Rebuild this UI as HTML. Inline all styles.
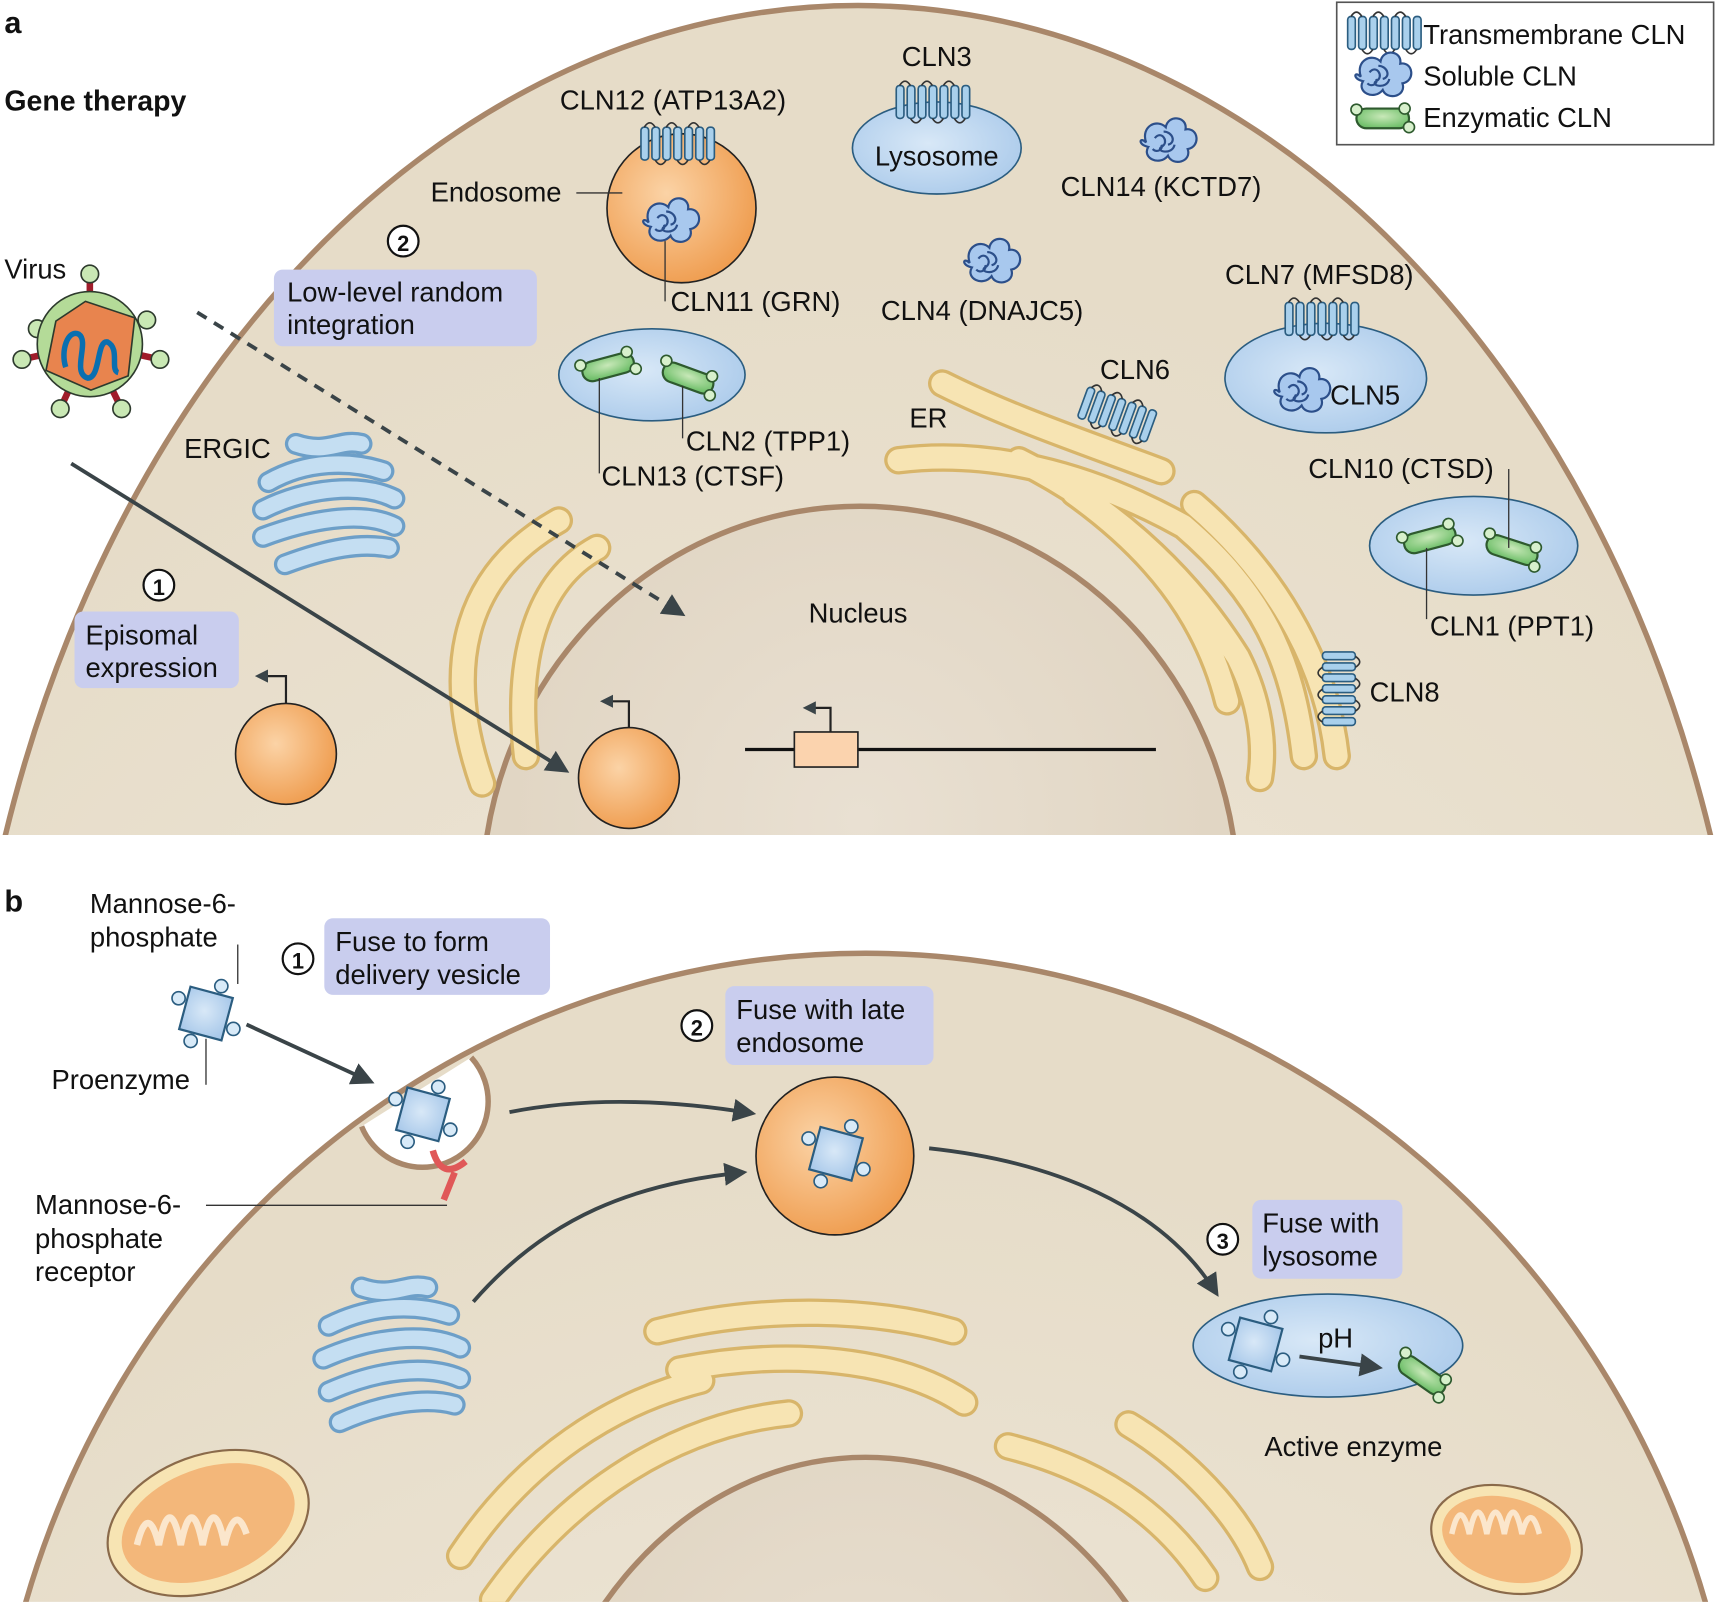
<!DOCTYPE html>
<html><head><meta charset="utf-8"><style>
html,body{margin:0;padding:0;background:#fff;width:1718px;height:1602px;overflow:hidden;}
svg{display:block}
text{font-family:"Liberation Sans",sans-serif;font-size:25px;fill:#111}
</style></head><body>
<svg width="1718" height="1602" viewBox="0 0 1568 1462" xmlns="http://www.w3.org/2000/svg">
<defs>
<radialGradient id="cell" cx="50%" cy="90%" r="80%"><stop offset="0" stop-color="#f4efe6"/><stop offset="1" stop-color="#e6dcc8"/></radialGradient>
<radialGradient id="nuc" cx="50%" cy="40%" r="70%"><stop offset="0" stop-color="#e9e0d2"/><stop offset="1" stop-color="#ddd1bd"/></radialGradient>
<radialGradient id="or" cx="40%" cy="40%" r="65%"><stop offset="0" stop-color="#fbd3a6"/><stop offset="1" stop-color="#ef9c4e"/></radialGradient>
<radialGradient id="bl" cx="45%" cy="45%" r="65%"><stop offset="0" stop-color="#d8e8f7"/><stop offset="1" stop-color="#a9c9ea"/></radialGradient>
<radialGradient id="gr" cx="50%" cy="40%" r="60%"><stop offset="0" stop-color="#c8e8b8"/><stop offset="1" stop-color="#6fbf6a"/></radialGradient>
<marker id="ah" viewBox="0 0 10 10" refX="8" refY="5" markerWidth="6" markerHeight="6" orient="auto"><path d="M0,0L10,5L0,10z" fill="#3a4448"/></marker>
<g id="tm"><g fill="#a9d0ec" stroke="#2b5d80" stroke-width="1.5"><rect x="0" y="0" width="7" height="30" rx="3"/><rect x="10" y="0" width="7" height="30" rx="3"/><rect x="20" y="0" width="7" height="30" rx="3"/><rect x="30" y="0" width="7" height="30" rx="3"/><rect x="40" y="0" width="7" height="30" rx="3"/><rect x="50" y="0" width="7" height="30" rx="3"/><rect x="60" y="0" width="7" height="30" rx="3"/></g><path d="M3,0 q5,-8 10,0 M23,0 q5,-8 10,0 M43,0 q5,-8 10,0 M13,30 q5,8 10,0 M33,30 q5,8 10,0 M53,30 q5,8 10,0" fill="none" stroke="#333" stroke-width="1.5"/></g>
<g id="sol"><path d="M-20,0 c-5,-15 10,-22 18,-14 c2,-12 20,-10 18,2 c12,-2 14,16 2,18 c4,12 -14,16 -18,6 c-8,10 -24,2 -18,-8 c-10,-2 -8,-10 -2,-4 z" fill="#a8c8ee" stroke="#2c4f8a" stroke-width="2"/><path d="M-12,-4 c6,-8 14,4 6,8 c-6,4 10,8 12,-2 M-4,-10 c8,0 12,10 4,12 M-14,6 c4,4 10,0 8,-4" fill="none" stroke="#2c4f8a" stroke-width="2"/></g>
<g id="enz"><rect x="-24" y="-9" width="48" height="18" rx="9" fill="url(#gr)" stroke="#2e5a2e" stroke-width="2"/><circle cx="-24" cy="-8" r="5" fill="#d7f0cc" stroke="#2e5a2e" stroke-width="1.5"/><circle cx="24" cy="8" r="5" fill="#d7f0cc" stroke="#2e5a2e" stroke-width="1.5"/><circle cx="20" cy="-9" r="5" fill="#d7f0cc" stroke="#2e5a2e" stroke-width="1.5"/></g>
<g id="pro"><rect x="-20" y="-20" width="40" height="40" fill="url(#bl)" stroke="#2b5d80" stroke-width="2" transform="rotate(15)"/><g fill="#d8eaf8" stroke="#2b5d80" stroke-width="1.5"><circle cx="-25" cy="-14" r="6"/><circle cx="14" cy="-25" r="6"/><circle cx="25" cy="14" r="6"/><circle cx="-14" cy="25" r="6"/></g></g>
</defs>

<!-- ===== PANEL A ===== -->
<clipPath id="ca"><rect x="0" y="0" width="1568" height="762"/></clipPath>
<g clip-path="url(#ca)">
<ellipse cx="783" cy="1100" rx="818" ry="1095" fill="url(#cell)" stroke="#a9876a" stroke-width="5"/>
<ellipse cx="785" cy="820" rx="345" ry="358" fill="url(#nuc)" stroke="#a9876a" stroke-width="5"/>
<g fill="none" stroke-linecap="round">
<path d="M440,715 C400,600 430,520 510,475 M480,690 C470,600 490,530 545,500" stroke="#d8b56a" stroke-width="26"/>
<path d="M440,715 C400,600 430,520 510,475 M480,690 C470,600 490,530 545,500" stroke="#f7e4b3" stroke-width="20"/>
<path d="M860,350 C920,380 980,400 1060,430 M820,420 C900,410 990,430 1080,480 C1150,540 1180,600 1190,690 M930,420 C1010,460 1080,520 1130,600 C1150,640 1155,680 1150,710 M980,450 C1050,500 1100,560 1120,640 M1090,460 C1160,520 1210,600 1220,690" stroke="#d8b56a" stroke-width="26"/>
<path d="M860,350 C920,380 980,400 1060,430 M820,420 C900,410 990,430 1080,480 C1150,540 1180,600 1190,690 M930,420 C1010,460 1080,520 1130,600 C1150,640 1155,680 1150,710 M980,450 C1050,500 1100,560 1120,640 M1090,460 C1160,520 1210,600 1220,690" stroke="#f7e4b3" stroke-width="20"/>
<path d="M270,405 C300,415 310,400 330,405 M245,440 C280,420 320,420 350,430 M240,465 C280,445 330,440 360,455 M240,490 C280,475 330,465 360,480 M260,515 C300,500 330,495 355,500" stroke="#6d9fc8" stroke-width="20"/>
<path d="M270,405 C300,415 310,400 330,405 M245,440 C280,420 320,420 350,430 M240,465 C280,445 330,440 360,455 M240,490 C280,475 330,465 360,480 M260,515 C300,500 330,495 355,500" stroke="#c4def2" stroke-width="14"/>
</g>
</g>

<text x="4" y="30" style="font-weight:bold;font-size:28px">a</text>
<text x="4" y="101" style="font-weight:bold;font-size:26px">Gene therapy</text>

<rect x="1220" y="2" width="344" height="130" fill="#fff" stroke="#555" stroke-width="1.5"/>
<use href="#tm" x="1230" y="15"/>
<text x="1299" y="40">Transmembrane CLN</text>
<use href="#sol" x="1262" y="70"/>
<text x="1299" y="78">Soluble CLN</text>
<use href="#enz" x="1262" y="108"/>
<text x="1299" y="116">Enzymatic CLN</text>

<g stroke="#a01c2a" stroke-width="6"><line x1="82" y1="314" x2="82" y2="250"/><line x1="82" y1="314" x2="34" y2="295"/><line x1="82" y1="314" x2="134" y2="292"/><line x1="82" y1="314" x2="20" y2="328"/><line x1="82" y1="314" x2="146" y2="328"/><line x1="82" y1="314" x2="55" y2="373"/><line x1="82" y1="314" x2="111" y2="373"/></g>
<g fill="#c9e8b4" stroke="#2d3a2d" stroke-width="1.5"><circle cx="82" cy="250" r="8"/><circle cx="34" cy="300" r="8"/><circle cx="134" cy="292" r="8"/><circle cx="20" cy="328" r="8"/><circle cx="146" cy="328" r="8"/><circle cx="55" cy="373" r="8"/><circle cx="111" cy="373" r="8"/></g>
<circle cx="82" cy="314" r="48" fill="#b4db98" stroke="#2d3a2d" stroke-width="1.5"/>
<polygon points="78,275 123,290 117,343 83,356 42,338 51,293" fill="#e8844e" stroke="#2d3a2d" stroke-width="1.5"/>
<path d="M60,335 C55,320 62,300 72,305 C82,312 65,340 80,345 C92,345 88,310 98,312 C110,318 100,338 108,340" fill="none" stroke="#0a6fb0" stroke-width="5"/>
<text x="4" y="254">Virus</text>

<line x1="65" y1="423" x2="516" y2="703" stroke="#3a4448" stroke-width="3.5" marker-end="url(#ah)"/>
<line x1="180" y1="285" x2="622" y2="560" stroke="#3a4448" stroke-width="3.5" stroke-dasharray="10,8" marker-end="url(#ah)"/>

<rect x="250" y="246" width="240" height="70" rx="8" fill="#c9cdee"/>
<text x="262" y="275">Low-level random</text><text x="262" y="305">integration</text>
<circle cx="368" cy="220" r="14" fill="#fff" stroke="#111" stroke-width="2"/><text x="368" y="229" text-anchor="middle" style="font-weight:bold;font-size:20px">2</text>
<rect x="68" y="558" width="150" height="70" rx="8" fill="#c9cdee"/>
<text x="78" y="588">Episomal</text><text x="78" y="618">expression</text>
<circle cx="145" cy="534" r="14" fill="#fff" stroke="#111" stroke-width="2"/><text x="145" y="543" text-anchor="middle" style="font-weight:bold;font-size:20px">1</text>
<text x="168" y="418">ERGIC</text>
<text x="830" y="390">ER</text>
<text x="738" y="568">Nucleus</text>

<circle cx="261" cy="688" r="46" fill="url(#or)" stroke="#222" stroke-width="1.5"/>
<path d="M261,642 V617 H235" fill="none" stroke="#222" stroke-width="2" marker-end="url(#ah)"/>
<circle cx="574" cy="710" r="46" fill="url(#or)" stroke="#222" stroke-width="1.5"/>
<path d="M574,664 V640 H550" fill="none" stroke="#222" stroke-width="2" marker-end="url(#ah)"/>
<line x1="680" y1="684" x2="1055" y2="684" stroke="#111" stroke-width="3"/>
<rect x="725" y="668" width="58" height="32" fill="#fbd3ae" stroke="#222" stroke-width="1.5"/>
<path d="M758,668 V646 H735" fill="none" stroke="#222" stroke-width="2" marker-end="url(#ah)"/>

<circle cx="622" cy="190" r="68" fill="url(#or)" stroke="#222" stroke-width="1.5"/>
<use href="#tm" x="585" y="116"/>
<use href="#sol" x="612" y="203"/>
<line x1="526" y1="176" x2="568" y2="176" stroke="#333" stroke-width="1.2"/>
<line x1="607" y1="220" x2="607" y2="275" stroke="#333" stroke-width="1.2"/>
<text x="393" y="184">Endosome</text>
<text x="511" y="100">CLN12 (ATP13A2)</text>
<text x="612" y="284">CLN11 (GRN)</text>

<ellipse cx="855" cy="135" rx="77" ry="42" fill="url(#bl)" stroke="#2b5d80" stroke-width="1.5"/>
<use href="#tm" x="818" y="78"/>
<text x="855" y="60" text-anchor="middle">CLN3</text>
<text x="855" y="151" text-anchor="middle">Lysosome</text>
<use href="#sol" x="1066" y="130"/>
<text x="968" y="179">CLN14 (KCTD7)</text>
<use href="#sol" x="905" y="240"/>
<text x="804" y="292">CLN4 (DNAJC5)</text>

<ellipse cx="595" cy="342" rx="85" ry="42" fill="url(#bl)" stroke="#2b5d80" stroke-width="1.5"/>
<use href="#enz" x="555" y="335" transform="rotate(-15 555 335)"/>
<use href="#enz" x="628" y="345" transform="rotate(20 628 345)"/>
<line x1="547" y1="345" x2="547" y2="432" stroke="#333" stroke-width="1.2"/>
<line x1="623" y1="352" x2="623" y2="400" stroke="#333" stroke-width="1.2"/>
<text x="626" y="411">CLN2 (TPP1)</text>
<text x="549" y="443">CLN13 (CTSF)</text>

<ellipse cx="1210" cy="345" rx="92" ry="50" fill="url(#bl)" stroke="#2b5d80" stroke-width="1.5"/>
<use href="#tm" x="1173" y="276"/>
<use href="#sol" x="1188" y="358"/>
<text x="1118" y="259">CLN7 (MFSD8)</text>
<text x="1214" y="369">CLN5</text>
<g transform="rotate(20 1010 380)"><use href="#tm" x="985" y="360"/></g>
<text x="1004" y="346">CLN6</text>

<ellipse cx="1345" cy="498" rx="95" ry="45" fill="url(#bl)" stroke="#2b5d80" stroke-width="1.5"/>
<use href="#enz" x="1305" y="492" transform="rotate(-15 1305 492)"/>
<use href="#enz" x="1380" y="502" transform="rotate(18 1380 502)"/>
<line x1="1377" y1="428" x2="1377" y2="500" stroke="#333" stroke-width="1.2"/>
<line x1="1302" y1="500" x2="1302" y2="565" stroke="#333" stroke-width="1.2"/>
<text x="1194" y="436">CLN10 (CTSD)</text>
<text x="1305" y="580">CLN1 (PPT1)</text>
<g transform="rotate(-90 1222 630)"><use href="#tm" x="1190" y="615"/></g>
<text x="1250" y="640">CLN8</text>

<!-- ===== PANEL B ===== -->
<text x="4" y="832" style="font-weight:bold;font-size:28px">b</text>
<clipPath id="cb"><rect x="0" y="770" width="1568" height="692"/></clipPath>
<g clip-path="url(#cb)">
<ellipse cx="790" cy="1700" rx="800" ry="830" fill="url(#cell)" stroke="#a9876a" stroke-width="5"/>
<path d="M330,1028 A60,60 0 1 0 430,965" fill="#fff" stroke="#a9876a" stroke-width="5"/>
<ellipse cx="790" cy="1700" rx="310" ry="370" fill="url(#nuc)" stroke="#a9876a" stroke-width="5"/>
<g fill="none" stroke-linecap="round">
<path d="M420,1420 C480,1330 560,1280 640,1260 M450,1460 C520,1360 620,1300 720,1290 M600,1215 C700,1190 800,1195 870,1215 M620,1250 C720,1230 820,1240 880,1280 M920,1320 C1000,1340 1060,1380 1100,1440 M1030,1300 C1080,1330 1130,1380 1150,1430" stroke="#d8b56a" stroke-width="26"/>
<path d="M420,1420 C480,1330 560,1280 640,1260 M450,1460 C520,1360 620,1300 720,1290 M600,1215 C700,1190 800,1195 870,1215 M620,1250 C720,1230 820,1240 880,1280 M920,1320 C1000,1340 1060,1380 1100,1440 M1030,1300 C1080,1330 1130,1380 1150,1430" stroke="#f7e4b3" stroke-width="20"/>
<path d="M330,1175 C360,1185 370,1170 390,1175 M300,1210 C340,1190 380,1190 410,1200 M295,1240 C340,1220 390,1215 420,1230 M300,1270 C345,1250 390,1245 420,1258 M310,1298 C350,1280 390,1275 415,1282" stroke="#6d9fc8" stroke-width="20"/>
<path d="M330,1175 C360,1185 370,1170 390,1175 M300,1210 C340,1190 380,1190 410,1200 M295,1240 C340,1220 390,1215 420,1230 M300,1270 C345,1250 390,1245 420,1258 M310,1298 C350,1280 390,1275 415,1282" stroke="#c4def2" stroke-width="14"/>
</g>
<ellipse cx="190" cy="1390" rx="95" ry="62" transform="rotate(-20 190 1390)" fill="#f7e4b3" stroke="#8a6a4a" stroke-width="2"/>
<ellipse cx="190" cy="1390" rx="82" ry="50" transform="rotate(-20 190 1390)" fill="#f3b77a"/>
<path d="M125,1410 q10,-40 20,0 q10,-50 20,0 q10,-50 20,0 q10,-50 20,0 q10,-40 20,-10" fill="none" stroke="#fbe6cc" stroke-width="6"/>
<ellipse cx="1375" cy="1405" rx="70" ry="48" transform="rotate(15 1375 1405)" fill="#f7e4b3" stroke="#8a6a4a" stroke-width="2"/>
<ellipse cx="1375" cy="1405" rx="60" ry="38" transform="rotate(15 1375 1405)" fill="#f3b77a"/>
<path d="M1325,1400 q8,-35 16,0 q8,-40 16,0 q8,-40 16,0 q8,-40 16,0 q8,-30 16,0" fill="none" stroke="#fbe6cc" stroke-width="5"/>
</g>

<text x="82" y="833">Mannose-6-</text><text x="82" y="864">phosphate</text>
<line x1="217" y1="862" x2="217" y2="898" stroke="#333" stroke-width="1.2"/>
<use href="#pro" x="188" y="925"/>
<line x1="188" y1="948" x2="188" y2="990" stroke="#333" stroke-width="1.2"/>
<text x="47" y="994">Proenzyme</text>
<circle cx="272" cy="875" r="14" fill="#fff" stroke="#111" stroke-width="2"/><text x="272" y="884" text-anchor="middle" style="font-weight:bold;font-size:20px">1</text>
<rect x="296" y="838" width="206" height="70" rx="8" fill="#c9cdee"/>
<text x="306" y="868">Fuse to form</text><text x="306" y="898">delivery vesicle</text>
<line x1="225" y1="935" x2="338" y2="987" stroke="#3a4448" stroke-width="3.5" marker-end="url(#ah)"/>
<use href="#pro" x="386" y="1017"/>
<path d="M405,1095 L415,1070 M395,1050 q8,28 30,10" fill="none" stroke="#e05858" stroke-width="6"/>
<line x1="188" y1="1100" x2="408" y2="1100" stroke="#333" stroke-width="1.2"/>
<text x="32" y="1108">Mannose-6-</text><text x="32" y="1139">phosphate</text><text x="32" y="1169">receptor</text>

<circle cx="636" cy="936" r="14" fill="#fff" stroke="#111" stroke-width="2"/><text x="636" y="945" text-anchor="middle" style="font-weight:bold;font-size:20px">2</text>
<rect x="662" y="900" width="190" height="72" rx="8" fill="#c9cdee"/>
<text x="672" y="930">Fuse with late</text><text x="672" y="960">endosome</text>
<path d="M465,1015 C540,1000 620,1005 686,1016" fill="none" stroke="#3a4448" stroke-width="3.5" marker-end="url(#ah)"/>
<path d="M432,1188 C500,1110 580,1080 678,1070" fill="none" stroke="#3a4448" stroke-width="3.5" marker-end="url(#ah)"/>
<circle cx="762" cy="1055" r="72" fill="url(#or)" stroke="#222" stroke-width="1.5"/>
<use href="#pro" x="763" y="1053"/>
<path d="M848,1048 C960,1060 1060,1100 1110,1180" fill="none" stroke="#3a4448" stroke-width="3.5" marker-end="url(#ah)"/>

<circle cx="1116" cy="1131" r="14" fill="#fff" stroke="#111" stroke-width="2"/><text x="1116" y="1140" text-anchor="middle" style="font-weight:bold;font-size:20px">3</text>
<rect x="1143" y="1095" width="137" height="72" rx="8" fill="#c9cdee"/>
<text x="1152" y="1125">Fuse with</text><text x="1152" y="1155">lysosome</text>
<ellipse cx="1212" cy="1228" rx="123" ry="47" fill="url(#bl)" stroke="#2b5d80" stroke-width="1.5"/>
<use href="#pro" x="1146" y="1227"/>
<line x1="1186" y1="1238" x2="1258" y2="1248" stroke="#3a4448" stroke-width="3.5" marker-end="url(#ah)"/>
<text x="1203" y="1230">pH</text>
<use href="#enz" x="1298" y="1255" transform="rotate(35 1298 1255)"/>
<text x="1154" y="1329">Active enzyme</text>
</svg>
</body></html>
